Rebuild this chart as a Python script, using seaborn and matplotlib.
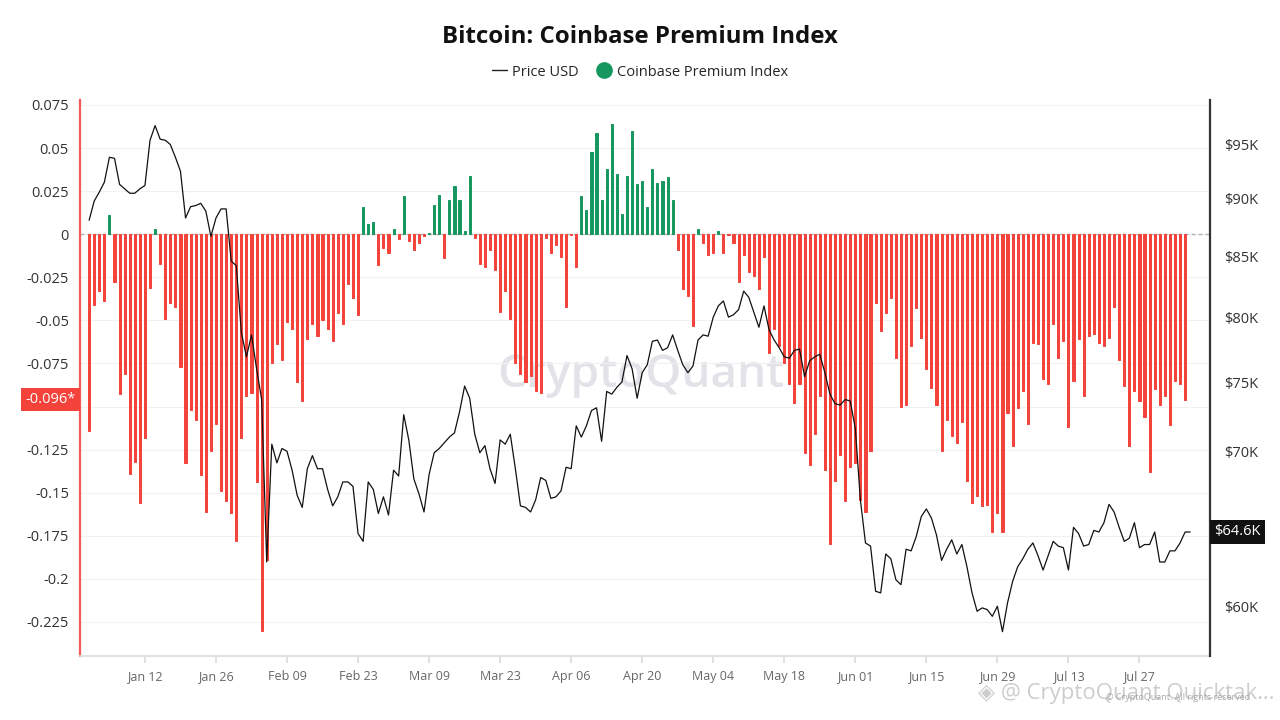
import numpy as np
import pandas as pd
import seaborn as sns
import matplotlib.pyplot as plt
import matplotlib.dates as mdates
import matplotlib.transforms as mtransforms
from matplotlib.lines import Line2D
from matplotlib.ticker import FixedLocator, FixedFormatter, NullLocator

# daily Coinbase premium index, from Jan 1
start_date = '2026-01-01'
premium = [
    -0.114, -0.041, -0.033, -0.039, 0.011, -0.028, -0.093, -0.081, -0.139, -0.132,
    -0.156, -0.118, -0.031, 0.003, -0.017, -0.049, -0.040, -0.042, -0.077, -0.133,
    -0.102, -0.108, -0.140, -0.161, -0.126, -0.110, -0.149, -0.155, -0.162, -0.178,
    -0.118, -0.094, -0.092, -0.144, -0.230, -0.189, -0.075, -0.064, -0.073, -0.051,
    -0.055, -0.086, -0.097, -0.061, -0.052, -0.059, -0.050, -0.055, -0.062, -0.046,
    -0.052, -0.029, -0.037, -0.047, 0.016, 0.006, 0.007, -0.018, -0.008, -0.011,
    0.003, -0.003, 0.022, -0.004, -0.009, -0.005, -0.001, 0.0005, 0.017, 0.023,
    -0.014, 0.020, 0.028, 0.020, 0.002, 0.034, -0.002, -0.017, -0.019, -0.009,
    -0.021, -0.045, -0.033, -0.049, -0.075, -0.081, -0.086, -0.082, -0.091, -0.092,
    -0.002, -0.011, -0.006, -0.013, -0.042, -0.0005, -0.019, 0.022, 0.014, 0.048,
    0.059, 0.020, 0.038, 0.064, 0.035, 0.012, 0.034, 0.060, 0.029, 0.031,
    0.016, 0.038, 0.030, 0.031, 0.033, 0.020, -0.009, -0.032, -0.036, -0.053,
    0.003, -0.005, -0.012, -0.011, 0.002, -0.011, -0.0005, -0.005, -0.028, -0.012,
    -0.022, -0.024, -0.032, -0.013, -0.069, -0.055, -0.065, -0.075, -0.087, -0.098,
    -0.087, -0.127, -0.134, -0.116, -0.094, -0.137, -0.180, -0.143, -0.128, -0.155,
    -0.135, -0.133, -0.154, -0.161, -0.126, -0.040, -0.056, -0.046, -0.037, -0.072,
    -0.100, -0.099, -0.065, -0.043, -0.060, -0.078, -0.089, -0.099, -0.126, -0.108,
    -0.117, -0.121, -0.109, -0.143, -0.156, -0.152, -0.158, -0.157, -0.173, -0.162,
    -0.173, -0.104, -0.123, -0.101, -0.091, -0.110, -0.063, -0.064, -0.084, -0.087,
    -0.052, -0.072, -0.062, -0.112, -0.085, -0.061, -0.094, -0.059, -0.058, -0.063,
    -0.065, -0.060, -0.042, -0.073, -0.088, -0.123, -0.091, -0.097, -0.106, -0.138,
    -0.090, -0.099, -0.094, -0.111, -0.085, -0.087, -0.096,
]

# BTC price in thousands of USD
price_k = [
    88.1, 89.8, 90.6, 91.5, 93.8, 93.7, 91.3, 90.9, 90.5, 90.5,
    90.9, 91.2, 95.4, 96.8, 95.5, 95.4, 95.0, 93.8, 92.5, 88.3,
    89.3, 89.4, 89.6, 88.9, 86.7, 88.3, 89.1, 89.1, 84.6, 84.2,
    78.8, 76.9, 78.6, 76.0, 73.7, 62.7, 70.5, 69.2, 70.2, 70.0,
    68.7, 67.0, 66.2, 68.8, 69.7, 68.8, 68.8, 67.4, 66.3, 66.9,
    67.9, 67.9, 67.6, 64.5, 64.0, 67.9, 67.4, 65.8, 66.9, 65.7,
    68.7, 68.3, 72.6, 70.8, 68.1, 67.1, 65.9, 68.4, 69.9, 70.2,
    70.6, 71.0, 71.3, 72.8, 74.7, 73.8, 71.2, 69.9, 70.4, 68.8,
    67.8, 70.8, 70.5, 71.2, 68.8, 66.3, 66.2, 65.9, 66.7, 68.2,
    68.0, 66.8, 66.9, 67.3, 68.9, 68.8, 71.8, 71.0, 71.8, 72.9,
    73.1, 70.7, 74.3, 74.1, 74.6, 75.0, 77.0, 76.0, 73.8, 75.7,
    76.3, 78.1, 78.2, 77.4, 77.6, 78.6, 77.4, 76.3, 75.7, 76.2,
    78.2, 78.6, 78.5, 80.0, 80.9, 81.3, 80.0, 80.2, 80.6, 82.1,
    81.6, 80.4, 79.2, 80.9, 79.0, 78.2, 77.6, 76.9, 76.8, 77.4,
    77.5, 75.4, 76.6, 76.9, 77.1, 75.7, 74.1, 73.4, 73.3, 73.7,
    73.6, 71.6, 66.7, 63.9, 63.7, 60.9, 60.8, 63.2, 62.9, 61.6,
    61.3, 63.5, 63.4, 64.3, 65.6, 66.1, 65.5, 64.4, 62.8, 63.5,
    64.1, 63.2, 63.8, 62.4, 60.8, 59.7, 59.9, 59.8, 59.4, 60.0,
    58.5, 60.2, 61.5, 62.4, 62.9, 63.5, 63.9, 63.1, 62.2, 63.1,
    64.0, 63.7, 63.6, 62.2, 64.9, 64.5, 63.7, 63.8, 64.7, 64.6,
    65.2, 66.4, 65.9, 64.9, 64.0, 64.2, 65.2, 63.6, 63.8, 63.8,
    64.6, 62.7, 62.7, 63.4, 63.4, 63.9, 64.6, 64.6,
]

tick_dates = ['2026-01-12', '2026-01-26', '2026-02-09', '2026-02-23', '2026-03-09',
              '2026-03-23', '2026-04-06', '2026-04-20', '2026-05-04', '2026-05-18',
              '2026-06-01', '2026-06-15', '2026-06-29', '2026-07-13', '2026-07-27']
left_ticks = [0.075, 0.05, 0.025, 0, -0.025, -0.05, -0.075, -0.1,
              -0.125, -0.15, -0.175, -0.2, -0.225]
left_labels = ['0.075', '0.05', '0.025', '0', '-0.025', '-0.05', '-0.075', '',
               '-0.125', '-0.15', '-0.175', '-0.2', '-0.225']
right_ticks = [60, 70, 75, 80, 85, 90, 95]
right_labels = ['$60K', '$70K', '$75K', '$80K', '$85K', '$90K', '$95K']

RED = '#f4433a'
GREEN = '#16975f'

bar_dates = pd.date_range(start_date, periods=len(premium), freq='D')
price_dates = pd.date_range(start_date, periods=len(price_k), freq='D')

df = pd.DataFrame({'x': mdates.date2num(bar_dates), 'premium': premium})
df['sign'] = np.where(df['premium'] >= 0, 'pos', 'neg')

sns.set_theme(style='white')
plt.rcParams['font.family'] = ['Open Sans', 'DejaVu Sans']

fig = plt.figure(figsize=(12.8, 7.2), dpi=100)
ax = fig.add_axes([80 / 1280, 1 - 656 / 720, 1130 / 1280, 556 / 720])

sns.barplot(data=df, x='x', y='premium', hue='sign',
            palette={'pos': GREEN, 'neg': RED}, native_scale=True,
            width=0.42, dodge=False, errorbar=None, legend=False,
            saturation=1, ax=ax)
# give the thin bars a solid outline so they don't fade out
for p in ax.patches:
    p.set_edgecolor(p.get_facecolor())
    p.set_linewidth(0.7)
ax.axhline(0, color='#b5b5b5', lw=1, ls=(0, (3, 2)), zorder=0.9)

x0 = df['x'].iloc[0]
ax.set_xlim(x0 - 1.8, df['x'].iloc[-1] + 4.9)
ax.set_ylim(-0.2448, 0.0779)
ax.yaxis.set_major_locator(FixedLocator(left_ticks))
ax.yaxis.set_major_formatter(FixedFormatter(left_labels))
ax.xaxis.set_major_locator(FixedLocator(mdates.date2num(pd.to_datetime(tick_dates))))
ax.xaxis.set_major_formatter(mdates.DateFormatter('%b %d'))
ax.grid(axis='y', color='#f1f1f1', lw=0.8)
ax.set_axisbelow(True)
ax.set_xlabel('')
ax.set_ylabel('')
ax.tick_params(axis='y', length=0, labelsize=10.5, labelcolor='#333333', pad=8)
ax.tick_params(axis='x', length=5, color='#dddddd', labelsize=9, labelcolor='#666666',
               pad=5, bottom=True)
for s in ['top', 'right']:
    ax.spines[s].set_visible(False)
ax.spines['left'].set_color('#f45a55')
ax.spines['left'].set_linewidth(1.6)
ax.spines['bottom'].set_color('#dddddd')

ax.text(0.496, 0.505, 'CryptoQuant', transform=ax.transAxes, fontsize=33,
        fontweight='semibold', color='#e2e2e8', ha='center', va='center', zorder=0)

# price on log right axis
ax2 = ax.twinx()
sns.lineplot(x=mdates.date2num(price_dates), y=price_k, color='#111111', lw=0.9, ax=ax2)
ax2.set_yscale('log')
ax2.set_ylim(57.1, 99.3)
ax2.yaxis.set_major_locator(FixedLocator(right_ticks))
ax2.yaxis.set_major_formatter(FixedFormatter(right_labels))
ax2.yaxis.set_minor_locator(NullLocator())
ax2.set_xlabel('')
ax2.set_ylabel('')
ax2.tick_params(axis='y', length=0, labelsize=10.5, labelcolor='#333333', pad=10)
for s in ['top', 'left', 'bottom']:
    ax2.spines[s].set_visible(False)
ax2.spines['right'].set_color('#333333')
ax2.spines['right'].set_linewidth(1.6)

# latest value labels
tr_left = mtransforms.blended_transform_factory(ax.transAxes, ax.transData)
ax.text(-0.004, premium[-1], f'{premium[-1]:.3f}*', transform=tr_left, ha='right', va='center',
        color='white', fontsize=10.5, bbox=dict(boxstyle='square,pad=0.3', fc=RED, ec='none'))
tr_right = mtransforms.blended_transform_factory(ax2.transAxes, ax2.transData)
ax2.text(1.004, price_k[-1], f'${price_k[-1]:.1f}K', transform=tr_right, ha='left', va='center',
         color='white', fontsize=10.5, bbox=dict(boxstyle='square,pad=0.3', fc='#111111', ec='none'))

fig.text(0.5, 1 - 37 / 720, 'Bitcoin: Coinbase Premium Index', ha='center', va='center',
         fontsize=17.3, fontweight='bold', color='#111111')
handles = [Line2D([0], [0], color='#222222', lw=1),
           Line2D([0], [0], marker='o', color='none', markerfacecolor=GREEN,
                  markeredgecolor=GREEN, markersize=11)]
fig.legend(handles, ['Price USD', 'Coinbase Premium Index'], loc='center',
           bbox_to_anchor=(0.5, 1 - 72 / 720), ncol=2, frameon=False, fontsize=10.5,
           handlelength=1.0, handletextpad=0.4, columnspacing=1.2)

fig.text(1275 / 1280, 1 - 694 / 720, '\u25c8 @ CryptoQuant Quicktak\u2026', ha='right', va='center',
         fontsize=16, color='#cdcdcd', family=['Open Sans', 'DejaVu Sans'])
fig.text(1250 / 1280, 1 - 697 / 720, '\u00a9 CryptoQuant. All rights reserved', ha='right',
         va='center', fontsize=6.5, color='#a8a8a8')

fig.savefig('out.png', dpi=100)
